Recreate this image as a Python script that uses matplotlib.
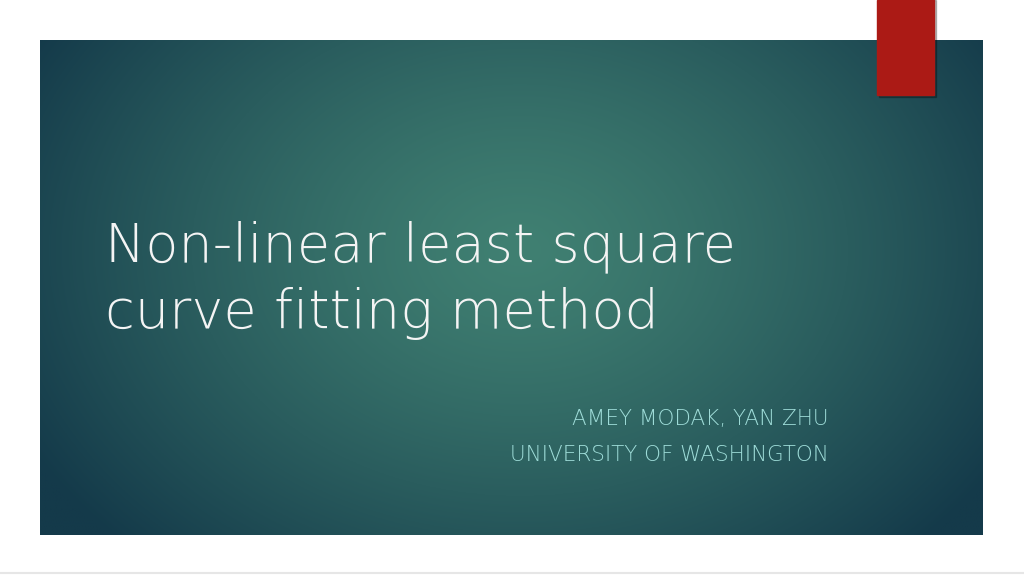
import numpy as np
import matplotlib.pyplot as plt
from matplotlib.patches import Rectangle

title_lines = ["Non-linear least square", "curve fitting method"]
subtitle_lines = ["AMEY MODAK, YAN ZHU", "UNIVERSITY OF WASHINGTON"]

W, H = 1024, 576
fig = plt.figure(figsize=(10.24, 5.76), dpi=100)
ax = fig.add_axes([0, 0, 1, 1])
ax.set_xlim(0, W)
ax.set_ylim(H, 0)
ax.axis('off')
fig.patch.set_facecolor('white')

# radial gradient panel
x0, x1, y0, y1 = 40, 983, 40, 535
xs = np.linspace(x0, x1, 600)
ys = np.linspace(y0, y1, 320)
X, Y = np.meshgrid(xs, ys)
d = np.sqrt(((X - 520) / 560) ** 2 + ((Y - 250) / 420) ** 2)
d = np.clip(d, 0, 1)
inner = np.array([0x40, 0x80, 0x72]) / 255
outer = np.array([0x14, 0x3a, 0x4a]) / 255
t = d ** 1.3
img = inner[None, None, :] * (1 - t[..., None]) + outer[None, None, :] * t[..., None]
ax.imshow(img, extent=[x0, x1, y1, y0], aspect='auto', zorder=1)

# red tab with shadow
ax.add_patch(Rectangle((879, 0), 57, 97, color='black', alpha=0.25, zorder=2))
ax.add_patch(Rectangle((877, 0), 57, 95, color='#ab1a15', zorder=3))

# bottom line
ax.plot([0, W], [573, 573], color='#e6e6e6', lw=1.5, zorder=1)

tf = dict(fontsize=39, family='DejaVu Sans', weight='ultralight', color='#f4f4f4',
          va='baseline', ha='left', zorder=4)
ax.text(105, 261, title_lines[0], **tf)
ax.text(105, 328, title_lines[1], **tf)

sf = dict(fontsize=15.5, family='DejaVu Sans', weight='ultralight', color='#9edcd8',
          va='baseline', ha='right', zorder=4)
ax.text(829, 425, subtitle_lines[0], **sf)
ax.text(829, 461, subtitle_lines[1], **sf)

fig.savefig('out.png', dpi=100)
